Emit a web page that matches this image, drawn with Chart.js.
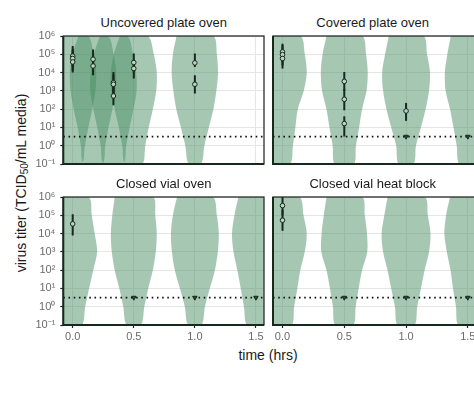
<!DOCTYPE html>
<html>
<head>
<meta charset="utf-8">
<script src="https://cdn.jsdelivr.net/npm/chart.js@4.4.0/dist/chart.umd.min.js"></script>
<style>
  body { margin: 0; background: #fff; }
  #fig { position: relative; width: 474px; height: 394px; overflow: hidden; font-family: 'Liberation Sans', Arial, sans-serif; color: #1a1a1a; }
  #fig canvas { position: absolute; }
  .title { position: absolute; font-size: 13px; line-height: 16px; text-align: center; white-space: nowrap; }
  .axlabel { position: absolute; font-size: 14px; line-height: 18px; text-align: center; white-space: nowrap; }
</style>
</head>
<body>
<div id="fig">
  <div class="axlabel" style="left:-127px; top:172px; width:300px; transform:rotate(-90deg);">virus titer (TCID<sub style="font-size:10px; vertical-align:-2px;">50</sub>/mL media)</div>
  <div class="axlabel" style="left:168px; top:346px; width:200px;">time (hrs)</div>
</div>
<script>
// facet titles and axis ticks
const panelTitles = ['Uncovered plate oven', 'Covered plate oven', 'Closed vial oven', 'Closed vial heat block'];
const xTickValues = [0, 0.5, 1.0, 1.5];
const yTickExponents = [-1, 0, 1, 2, 3, 4, 5, 6];
const yTickLabels = ['10⁻¹', '10⁰', '10¹', '10²', '10³', '10⁴', '10⁵', '10⁶'];
const detectionLimit = 3.16; // TCID50/mL, dotted line

// violin densities, one value per log10 titer in yTickExponents (max = 1)
const uncoveredTimes = [0, 1 / 6, 1 / 3, 0.5, 1.0];
const uncoveredDensity = [
	[0.36, 0.5, 0.64, 0.8, 0.93, 0.96, 0.85, 0.62],
	[0.38, 0.5, 0.63, 0.79, 0.92, 0.95, 0.84, 0.6],
	[0.4, 0.52, 0.66, 0.82, 0.95, 0.93, 0.8, 0.56],
	[0.35, 0.47, 0.61, 0.78, 0.92, 0.94, 0.82, 0.57],
	[0.25, 0.39, 0.57, 0.76, 0.88, 0.95, 0.9, 0.75],
];
const coveredTimes = [0, 0.5, 1.0, 1.5];
const coveredDensity = [
	[0.31, 0.42, 0.52, 0.62, 0.86, 0.98, 0.9, 0.72],
	[0.38, 0.47, 0.6, 0.72, 0.9, 0.95, 0.88, 0.72],
	[0.3, 0.4, 0.6, 0.79, 0.93, 0.97, 0.85, 0.7],
	[0.34, 0.45, 0.58, 0.72, 0.9, 0.93, 0.83, 0.69],
];
const vialOvenTimes = [0, 0.5, 1.0, 1.5];
const vialOvenDensity = [
	[0.37, 0.51, 0.67, 0.84, 1.0, 0.9, 0.78, 0.65],
	[0.29, 0.43, 0.59, 0.78, 0.9, 0.94, 0.88, 0.78],
	[0.27, 0.41, 0.61, 0.82, 0.94, 0.98, 0.9, 0.73],
	[0.36, 0.49, 0.62, 0.76, 0.92, 0.98, 0.88, 0.72],
];
const heatBlockTimes = [0, 0.5, 1.0, 1.5];
const heatBlockDensity = [
	[0.37, 0.47, 0.6, 0.72, 0.9, 0.98, 0.85, 0.68],
	[0.36, 0.46, 0.58, 0.72, 0.93, 0.92, 0.83, 0.72],
	[0.34, 0.45, 0.6, 0.75, 0.93, 0.99, 0.88, 0.75],
	[0.38, 0.48, 0.6, 0.7, 0.85, 0.95, 0.88, 0.72],
];

// measured titers (log10) with interval, and samples below detection
const uncoveredObsTime = [0, 0, 0, 1 / 6, 1 / 6, 1 / 3, 1 / 3, 1 / 3, 0.5, 0.5, 1, 1];
const uncoveredObsLog = [4.9, 4.77, 4.58, 4.73, 4.36, 3.45, 3.36, 2.72, 4.55, 4.22, 4.53, 3.36];
const uncoveredObsLo = [4.3, 4.1, 4.0, 4.2, 3.85, 2.9, 2.8, 2.21, 4.0, 3.67, 4.3, 2.85];
const uncoveredObsHi = [5.45, 5.3, 5.2, 5.26, 4.9, 4.03, 3.9, 3.2, 5.04, 4.7, 5.04, 3.85];
const uncoveredUndetected = [];

const coveredObsTime = [0, 0, 0, 0.5, 0.5, 0.5, 1];
const coveredObsLog = [5.13, 4.98, 4.77, 3.52, 2.54, 1.21, 1.9];
const coveredObsLo = [4.6, 4.4, 4.22, 3.0, 1.94, 0.5, 1.36];
const coveredObsHi = [5.58, 5.5, 5.3, 4.03, 3.1, 1.61, 2.34];
const coveredUndetected = [1, 1.5];

const vialOvenObsTime = [0];
const vialOvenObsLog = [4.53];
const vialOvenObsLo = [3.9];
const vialOvenObsHi = [5.06];
const vialOvenUndetected = [0.5, 1, 1.5];

const heatBlockObsTime = [0, 0];
const heatBlockObsLog = [5.53, 4.73];
const heatBlockObsLo = [5.0, 4.15];
const heatBlockObsHi = [6.1, 5.3];
const heatBlockUndetected = [0.5, 1, 1.5];

// layout
const xMin = -0.077;
const xMax = 1.566;
const violinHalfWidth = 0.2;
const fontFamily = "'Liberation Sans', Arial, sans-serif";
const violinColor = 'rgba(70, 140, 97, 0.48)';
const darkColor = '#17291c';

const panels = [
	{ title: panelTitles[0], times: uncoveredTimes, density: uncoveredDensity, obsTime: uncoveredObsTime, obsLog: uncoveredObsLog, obsLo: uncoveredObsLo, obsHi: uncoveredObsHi, undetected: uncoveredUndetected,
		area: { left: 63.3, top: 35.5, right: 264.3, bottom: 163.5 }, showX: false, showY: true },
	{ title: panelTitles[1], times: coveredTimes, density: coveredDensity, obsTime: coveredObsTime, obsLog: coveredObsLog, obsLo: coveredObsLo, obsHi: coveredObsHi, undetected: coveredUndetected,
		area: { left: 272.7, top: 35.5, right: 475.5, bottom: 163.5 }, showX: false, showY: false },
	{ title: panelTitles[2], times: vialOvenTimes, density: vialOvenDensity, obsTime: vialOvenObsTime, obsLog: vialOvenObsLog, obsLo: vialOvenObsLo, obsHi: vialOvenObsHi, undetected: vialOvenUndetected,
		area: { left: 63.3, top: 197, right: 264.3, bottom: 325 }, showX: true, showY: true },
	{ title: panelTitles[3], times: heatBlockTimes, density: heatBlockDensity, obsTime: heatBlockObsTime, obsLog: heatBlockObsLog, obsLo: heatBlockObsLo, obsHi: heatBlockObsHi, undetected: heatBlockUndetected,
		area: { left: 272.7, top: 197, right: 475.5, bottom: 325 }, showX: true, showY: false },
];

// closed outline: left side top->bottom, right side bottom->top
const violinPoints = (t, dens) => {
	const left = [];
	const right = [];
	for (let i = yTickExponents.length - 1; i >= 0; i--) {
		left.push({ x: t - violinHalfWidth * dens[i], y: 10 ** yTickExponents[i] });
	}
	for (let i = 0; i < yTickExponents.length; i++) {
		right.push({ x: t + violinHalfWidth * dens[i], y: 10 ** yTickExponents[i] });
	}
	return left.concat(right, [left[0]]);
};

const panelBorder = {
	id: 'panelBorder',
	afterDatasetsDraw(chart) {
		const { ctx, chartArea: a } = chart;
		ctx.save();
		ctx.strokeStyle = '#2b2b2b';
		ctx.lineWidth = 1.3;
		ctx.strokeRect(a.left, a.top, a.right - a.left, a.bottom - a.top);
		ctx.strokeStyle = darkColor;
		ctx.lineWidth = 2;
		ctx.beginPath();
		ctx.moveTo(a.left, a.top);
		ctx.lineTo(a.left, a.bottom);
		ctx.lineTo(a.right, a.bottom);
		ctx.stroke();
		ctx.restore();
	},
};

const fig = document.getElementById('fig');

const drawPanel = (p) => {
	const area = p.area;
	const box = {
		x: p.showY ? 0 : area.left - 6,
		y: area.top - 12,
		right: area.right + 6,
		bottom: area.bottom + (p.showX ? 27 : 16),
	};

	const title = document.createElement('div');
	title.className = 'title';
	title.textContent = p.title;
	title.style.left = area.left + 'px';
	title.style.width = (p.showY ? area.right - area.left : 200) + 'px';
	title.style.top = (area.top - 21) + 'px';
	fig.appendChild(title);

	const canvas = document.createElement('canvas');
	canvas.width = Math.round(box.right - box.x);
	canvas.height = Math.round(box.bottom - box.y);
	canvas.style.left = box.x + 'px';
	canvas.style.top = box.y + 'px';
	fig.appendChild(canvas);

	const datasets = [];

	// measured points
	datasets.push({
		data: p.obsTime.map((t, i) => ({ x: t, y: 10 ** p.obsLog[i] })),
		pointStyle: 'circle',
		pointRadius: 2.3,
		pointBorderWidth: 1,
		pointBorderColor: darkColor,
		pointBackgroundColor: '#b9d4c0',
		showLine: false,
		order: 1,
	});

	// below detection
	datasets.push({
		data: p.undetected.map((t) => ({ x: t, y: detectionLimit })),
		pointStyle: 'triangle',
		rotation: 180,
		pointRadius: 2.6,
		pointBorderWidth: 1,
		pointBorderColor: darkColor,
		pointBackgroundColor: '#2c4a34',
		showLine: false,
		order: 1,
	});

	// intervals
	p.obsTime.forEach((t, i) => {
		datasets.push({
			data: [{ x: t, y: 10 ** p.obsLo[i] }, { x: t, y: 10 ** p.obsHi[i] }],
			showLine: true,
			borderColor: darkColor,
			borderWidth: 2,
			pointRadius: 0,
			order: 2,
		});
	});

	// detection limit
	datasets.push({
		data: [{ x: xMin, y: detectionLimit }, { x: xMax, y: detectionLimit }],
		showLine: true,
		borderColor: '#111',
		borderWidth: 1.6,
		borderDash: [1.6, 3.6],
		pointRadius: 0,
		order: 3,
	});

	// violins
	p.times.forEach((t, i) => {
		datasets.push({
			data: violinPoints(t, p.density[i]),
			showLine: true,
			borderWidth: 0,
			borderColor: 'rgba(0,0,0,0)',
			backgroundColor: violinColor,
			fill: 'shape',
			tension: 0.3,
			pointRadius: 0,
			order: 4,
		});
	});

	new Chart(canvas, {
		type: 'scatter',
		data: { datasets: datasets },
		plugins: [panelBorder],
		options: {
			responsive: false,
			animation: false,
			events: [],
			layout: { padding: { top: area.top - box.y, right: box.right - area.right, left: 0, bottom: 0 } },
			plugins: { legend: { display: false }, tooltip: { enabled: false } },
			scales: {
				x: {
					type: 'linear',
					min: xMin,
					max: xMax,
					afterBuildTicks: (s) => { s.ticks = xTickValues.map((v) => ({ value: v })); },
					afterFit: (s) => { s.height = box.bottom - area.bottom; },
					ticks: { display: p.showX, callback: (v) => Number(v).toFixed(1), color: '#6b6b6b', font: { family: fontFamily, size: 11 }, padding: 2, maxRotation: 0 },
					grid: { color: '#e6e6e6', drawTicks: p.showX, tickLength: 3, tickColor: '#222', tickWidth: 1.2 },
					border: { display: false },
				},
				y: {
					type: 'logarithmic',
					min: 0.1,
					max: 1e6,
					afterBuildTicks: (s) => { s.ticks = yTickExponents.map((e) => ({ value: 10 ** e })); },
					afterFit: (s) => { s.width = area.left - box.x; },
					ticks: { display: p.showY, callback: (v, i) => yTickLabels[i], color: '#6b6b6b', font: { family: fontFamily, size: 11 }, padding: 5 },
					grid: { color: '#e6e6e6', drawTicks: p.showY, tickLength: 3, tickColor: '#222', tickWidth: 1.2 },
					border: { display: false },
				},
			},
		},
	});
};

panels.forEach(drawPanel);
</script>
</body>
</html>
